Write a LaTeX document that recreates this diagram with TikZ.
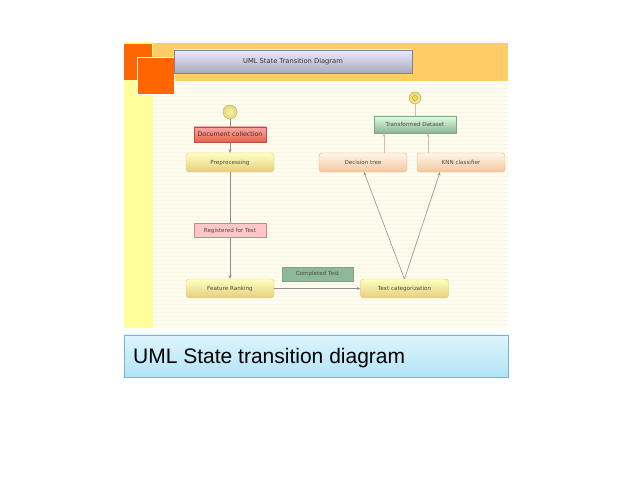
\documentclass[tikz,border=0pt]{standalone}
\usepackage{fontspec}
\setmainfont{DejaVu Sans}
\newfontfamily\capfont{Liberation Sans}
\usetikzlibrary{arrows.meta}
\definecolor{orng}{HTML}{FF6600}
\definecolor{band}{HTML}{FFCC66}
\definecolor{strip}{HTML}{FFFF99}
\definecolor{cream}{HTML}{FFFDEF}
\definecolor{creamline}{HTML}{FAF6E6}
\definecolor{wire}{HTML}{8E8E8E}
\definecolor{pinkwire}{HTML}{E2B4B0}
\definecolor{txt}{HTML}{4A4A3A}
\definecolor{dotin}{HTML}{F6F0A8}
\definecolor{dotout}{HTML}{E6D878}
\tikzset{
  lbl/.style={font=\fontsize{5.6}{6}\selectfont, text=txt, inner sep=0pt},
  ystate/.style={lbl, draw=yellow!60!orange!80!black!60, rounded corners=3pt,
     top color=yellow!25!white, bottom color=yellow!55!orange!45!white!90!black,
     minimum width=88pt, minimum height=19pt},
  pstate/.style={lbl, draw=orange!50!brown!60, rounded corners=3pt,
     top color=orange!8!white, bottom color=orange!35!white!95!black,
     minimum width=88pt, minimum height=19pt},
  redlab/.style={lbl, font=\fontsize{6.3}{7}\selectfont, draw=red!60!black!70, top color=red!35!white, bottom color=red!60!orange!70!white!90!black,
     minimum width=72pt, minimum height=15pt, text=black!80},
  pinklab/.style={lbl, draw=red!40!white!85!black, fill=red!22!white,
     minimum width=72pt, minimum height=14pt},
  greenlab/.style={lbl, draw=green!30!black!50, fill={rgb,255:red,143;green,184;blue,154},
     minimum width=71pt, minimum height=14pt},
  gstate/.style={lbl, draw=green!30!black!50, top color=green!12!white, bottom color={rgb,255:red,140;green,180;blue,150},
     minimum width=82pt, minimum height=17pt},
  conn/.style={draw=wire, line width=0.6pt},
  arr/.style={conn, -{Stealth[length=3.5pt,width=3pt]}},
  parr/.style={draw=pinkwire, line width=0.8pt, -{Stealth[length=3.5pt,width=3pt]}},
  pseudo/.style={circle, draw=dotout!80!black, inner color=dotin, outer color=dotout, inner sep=0pt},
}
\begin{document}
\begin{tikzpicture}[x=1pt,y=-1pt]
\useasboundingbox (0,0) rectangle (638,478);
\fill[white] (0,0) rectangle (638,478);
% frame decorations
\fill[strip] (124,42) rectangle (153,328);
\fill[band] (153,43) rectangle (508,81);
\fill[cream] (153,81) rectangle (508,328);
\foreach \yy in {84,88,...,326} \draw[creamline, line width=0.4pt] (153,\yy) -- (508,\yy);
\fill[orng] (124,44) rectangle (152,80);
\draw[white, line width=0.8pt, fill=orng] (137,57) rectangle (174,94);
% title bar
\node[draw={rgb,255:red,130;green,130;blue,150}, top color=white!92!blue, bottom color={rgb,255:red,170;green,170;blue,185},
  minimum width=238pt, minimum height=23pt, font=\fontsize{6.7}{7}\selectfont, text=black!80, inner sep=0pt]
  (title) at (293,61.5) {UML State Transition Diagram};
% left column
\node[pseudo, minimum size=14pt] (start) at (230,112) {};
\node[redlab] (doc) at (230,134.5) {Document collection};
\node[ystate] (pre) at (230,162.5) {Preprocessing};
\node[pinklab] (reg) at (230,230.5) {Registered for Test};
\node[ystate] (feat) at (230,288.5) {Feature Ranking};
\node[greenlab] (comp) at (317.5,274) {Completed Test};
\node[ystate] (tcat) at (404.5,288.5) {Text categorization};
% right column
\node[pstate] (dtree) at (363,162.5) {Decision tree};
\node[pstate] (knn) at (461,162.5) {KNN classifier};
\node[gstate] (tds) at (415,124.5) {Transformed Dataset};
\node[pseudo, minimum size=12pt] (end) at (415,98) {};
\node[circle, fill=yellow!70!orange!70!white, draw=dotout!70!black, minimum size=5pt, inner sep=0pt] (endin) at (415,98) {};
% connectors
\draw[conn] (start) -- (doc);
\draw[arr] (doc) -- (pre);
\draw[conn] (pre) -- (reg);
\draw[arr] (reg) -- (feat);
\draw[arr] (feat) -- (tcat);
\coordinate (tc) at (404.5,279);
\draw[arr] (tc) -- (364,172);
\draw[arr] (tc) -- (440,172);
\draw[parr] (dtree.north -| 384,0) -- (tds.south -| 384,0);
\draw[parr] (knn.north -| 428,0) -- (tds.south -| 428,0);
\draw[draw=pinkwire, line width=0.8pt] (tds) -- (end);
% caption
\node[draw={rgb,255:red,120;green,180;blue,205}, top color={rgb,255:red,222;green,244;blue,252}, bottom color={rgb,255:red,178;green,228;blue,247},
  minimum width=384pt, minimum height=42pt, inner sep=0pt] (capbox) at (316,356) {};
\node[anchor=west, font=\capfont\fontsize{21}{22}\selectfont, text=black, inner sep=0pt] (cap) at (133,358) {UML State transition diagram};
\end{tikzpicture}
\end{document}
